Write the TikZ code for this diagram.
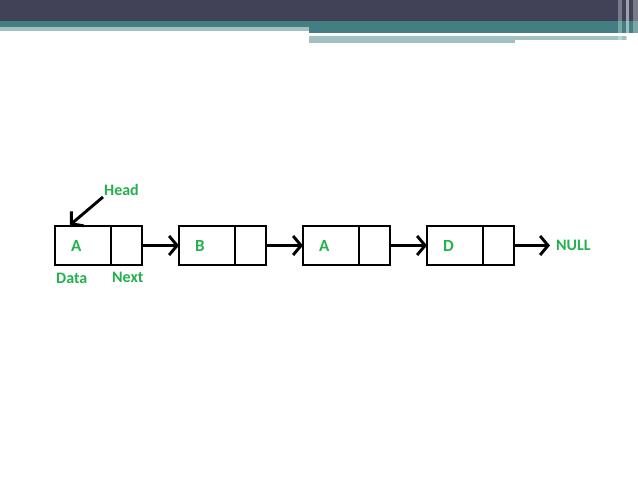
\documentclass[tikz,border=0pt]{standalone}
\usepackage{fontspec}
\setmainfont{Carlito}
\usepackage{tikz}
\usetikzlibrary{arrows.meta,positioning}
\definecolor{hdrdark}{HTML}{414257}
\definecolor{hdrteal}{HTML}{427E82}
\definecolor{hdrlight}{HTML}{A3C0C2}
\definecolor{lblgreen}{HTML}{22B14C}
\tikzset{
    cell/.style={draw,line width=2.9pt,minimum height=39pt,inner sep=0pt,outer sep=0pt,
        font=\fontsize{17}{19}\selectfont\bfseries,text=lblgreen},
    datacell/.style={cell,inner xsep=16pt,text width=24pt,align=left},
    nextcell/.style={cell,minimum width=31pt},
    lbl/.style={font=\fontsize{16}{18}\selectfont\bfseries,text=lblgreen,inner sep=1pt},
    ptr/.style={line width=2.9pt,-{Straight Barb[length=8pt,width=19pt]}}
}
\begin{document}
\begin{tikzpicture}[x=1pt,y=-1pt]
    \useasboundingbox (0,0) rectangle (638,478);
    \fill[hdrdark] (0,0) rectangle (638,21);
    \fill[hdrteal] (0,21) rectangle (638,27);
    \fill[hdrlight] (0,27) rectangle (309,31);
    \fill[hdrteal] (309,27) rectangle (638,33);
    \fill[hdrlight] (309,36) rectangle (627,40);
    \fill[hdrlight] (309,40) rectangle (515,43);
    \fill[white,opacity=.3] (618,0) rectangle (622,43);
    \fill[white,opacity=.5] (626,0) rectangle (629,43);
    \fill[white,opacity=.3] (633,0) rectangle (638,43);

    \node[datacell] (d1) at (83,245.5) {A};
    \node[nextcell,right=0pt of d1] (n1) {};
    \node[datacell,right=37pt of n1] (d2) {B};
    \node[nextcell,right=0pt of d2] (n2) {};
    \node[datacell,right=37pt of n2] (d3) {A};
    \node[nextcell,right=0pt of d3] (n3) {};
    \node[datacell,right=37pt of n3] (d4) {D};
    \node[nextcell,right=0pt of d4] (n4) {};
    \node[lbl,right=41pt of n4] (null) {NULL};

    \node[lbl,anchor=south west] (head) at (103,197) {Head};
    \node[lbl,anchor=north west] (data) at ([yshift=-7pt]d1.south west) {Data};
    \node[lbl,anchor=north west] (next) at ([yshift=-6pt]n1.south west) {Next};

    \draw[ptr] (n1) -- (d2);
    \draw[ptr] (n2) -- (d3);
    \draw[ptr] (n3) -- (d4);
    \draw[ptr,shorten >=5pt] (n4) -- (null);
    \draw[ptr] (head.south west) -- ([xshift=15pt,yshift=1pt]d1.north west);
\end{tikzpicture}
\end{document}
